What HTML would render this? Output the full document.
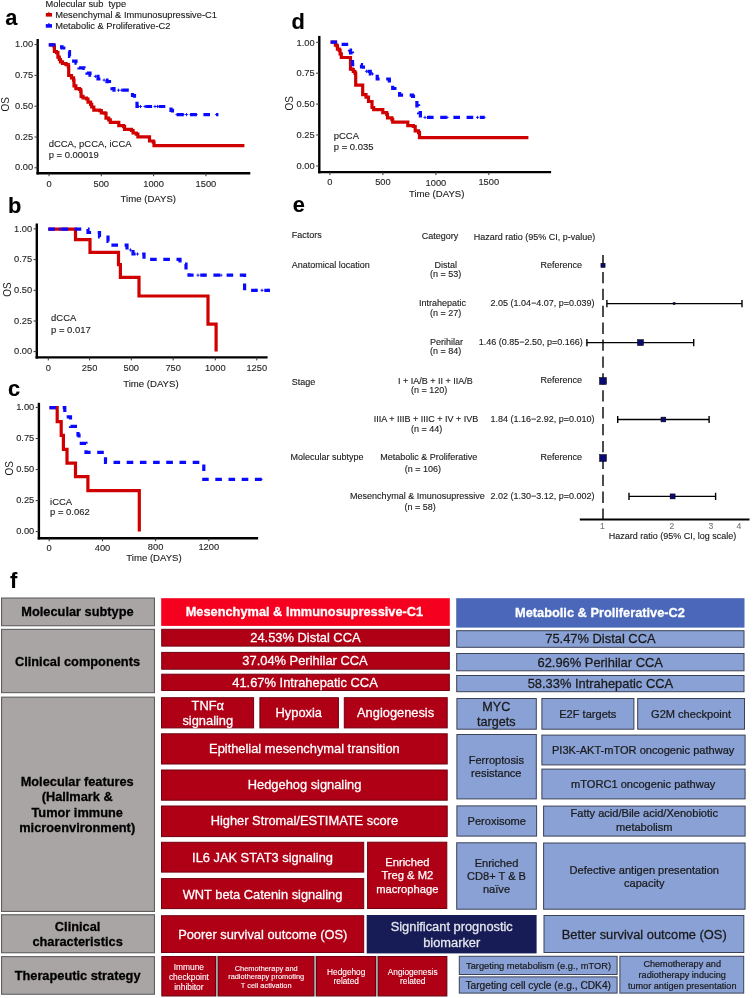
<!DOCTYPE html>
<html><head><meta charset="utf-8"><title>Figure</title><style>
html,body{margin:0;padding:0;background:#fff;}
svg{display:block;}
text{font-family:"Liberation Sans", Arial, sans-serif;}
</style></head><body>
<svg width="753" height="998" viewBox="0 0 753 998">
<rect width="753" height="998" fill="#fff"/>
<text x="5.3" y="25" font-size="21.8" font-weight="bold" fill="#000" stroke="#000" stroke-width="0.12">a</text>
<text x="8.0" y="212.8" font-size="21.8" font-weight="bold" fill="#000" stroke="#000" stroke-width="0.12">b</text>
<text x="8.0" y="395.6" font-size="21.8" font-weight="bold" fill="#000" stroke="#000" stroke-width="0.12">c</text>
<text x="291.4" y="29.2" font-size="21.8" font-weight="bold" fill="#000" stroke="#000" stroke-width="0.12">d</text>
<text x="292.8" y="212" font-size="21.8" font-weight="bold" fill="#000" stroke="#000" stroke-width="0.12">e</text>
<text x="10.0" y="588.1" font-size="21.8" font-weight="bold" fill="#000" stroke="#000" stroke-width="0.12">f</text>
<text x="45.5" y="7.2" font-size="9.3" fill="#1a1a1a" stroke="#1a1a1a" stroke-width="0.12" xml:space="preserve">Molecular sub  type</text>
<text x="55.2" y="18.2" font-size="9.3" fill="#1a1a1a" stroke="#1a1a1a" stroke-width="0.12">Mesenchymal &amp; Immunosupressive-C1</text>
<text x="55.2" y="29.3" font-size="9.3" fill="#1a1a1a" stroke="#1a1a1a" stroke-width="0.12">Metabolic &amp; Proliferative-C2</text>
<rect x="45.8" y="13" width="6.2" height="3.6" fill="#d00000"/>
<rect x="48.4" y="11.8" width="1" height="2" fill="#d00000"/>
<rect x="45.8" y="24.1" width="6.2" height="3.6" fill="#0a0aff"/>
<rect x="48.4" y="22.9" width="1" height="2" fill="#0a0aff"/>
<line x1="37.7" y1="39" x2="37.7" y2="174.39999999999998" stroke="#000" stroke-width="2.4"/>
<line x1="36.5" y1="173.2" x2="250.3" y2="173.2" stroke="#000" stroke-width="2.4"/>
<line x1="34.5" y1="44.6" x2="37.7" y2="44.6" stroke="#333" stroke-width="1"/>
<text x="33.1" y="47.1" font-size="9.3" text-anchor="end" fill="#262626" stroke="#262626" stroke-width="0.12">1.00</text>
<line x1="34.5" y1="75.4" x2="37.7" y2="75.4" stroke="#333" stroke-width="1"/>
<text x="33.1" y="77.9" font-size="9.3" text-anchor="end" fill="#262626" stroke="#262626" stroke-width="0.12">0.75</text>
<line x1="34.5" y1="106.2" x2="37.7" y2="106.2" stroke="#333" stroke-width="1"/>
<text x="33.1" y="108.7" font-size="9.3" text-anchor="end" fill="#262626" stroke="#262626" stroke-width="0.12">0.50</text>
<line x1="34.5" y1="137.0" x2="37.7" y2="137.0" stroke="#333" stroke-width="1"/>
<text x="33.1" y="139.5" font-size="9.3" text-anchor="end" fill="#262626" stroke="#262626" stroke-width="0.12">0.25</text>
<line x1="34.5" y1="167.8" x2="37.7" y2="167.8" stroke="#333" stroke-width="1"/>
<text x="33.1" y="170.3" font-size="9.3" text-anchor="end" fill="#262626" stroke="#262626" stroke-width="0.12">0.00</text>
<line x1="49" y1="173.2" x2="49" y2="176.2" stroke="#333" stroke-width="1"/>
<text x="49" y="186.5" font-size="9.3" text-anchor="middle" fill="#262626" stroke="#262626" stroke-width="0.12">0</text>
<line x1="101.3" y1="173.2" x2="101.3" y2="176.2" stroke="#333" stroke-width="1"/>
<text x="101.3" y="186.5" font-size="9.3" text-anchor="middle" fill="#262626" stroke="#262626" stroke-width="0.12">500</text>
<line x1="153.6" y1="173.2" x2="153.6" y2="176.2" stroke="#333" stroke-width="1"/>
<text x="153.6" y="186.5" font-size="9.3" text-anchor="middle" fill="#262626" stroke="#262626" stroke-width="0.12">1000</text>
<line x1="205.9" y1="173.2" x2="205.9" y2="176.2" stroke="#333" stroke-width="1"/>
<text x="205.9" y="186.5" font-size="9.3" text-anchor="middle" fill="#262626" stroke="#262626" stroke-width="0.12">1500</text>
<text x="148.3" y="201.5" font-size="9.6" text-anchor="middle" fill="#1a1a1a" stroke="#1a1a1a" stroke-width="0.12">Time (DAYS)</text>
<text transform="translate(8.9,104.4) rotate(-90)" font-size="10" text-anchor="middle" fill="#1a1a1a">OS</text>
<text x="48.7" y="147" font-size="9.45" fill="#1a1a1a" stroke="#1a1a1a" stroke-width="0.12">dCCA, pCCA, iCCA</text>
<text x="48.7" y="158.1" font-size="9.45" fill="#1a1a1a" stroke="#1a1a1a" stroke-width="0.12">p = 0.00019</text>
<path d="M48.8,44.8 H53.8 V46 H54.4 V51.5 H56.5 V52.7 H57.9 V57.1 H59.3 V59.5 H60.5 V61.9 H62.5 V63.5 H66 V64.7 H68.3 V66.3 H68.7 V75.5 H71.5 V77.8 H73.5 V80.2 H74 V85.8 H75.9 V88.6 H79.5 V89.5 H80.7 V91.4 H81.1 V96.4 H83 V98 H86.4 V99 H88 V102.2 H90.6 V104.3 H91.7 V107 H93.8 V110.2 H99.5 V110.7 H101.3 V112.8 H105 V113.4 H106 V118.2 H108.7 V119.8 H110.3 V122.4 H118.8 V125.6 H123.6 V126.7 H124.6 V129.3 H131.5 V130.5 H133.1 V133 H136.3 V134.1 H137.9 V136.8 H149.5 V141 H153.3 V142.1 H154 V145.6 H244.4" fill="none" stroke="#d00000" stroke-width="3.2"/>
<path d="M48.8,44.8 H55.5 V46.8 H62 V48 H67 V51.5 H69.5 V56.3 H72 V61.1 H76 V63.1 H79 V67.9 H84 V68.3 H87 V73.1 H90 V75.1 H94 V76.4 H98 V79 H104 V80.1 H107 V81.7 H109.5 V84.9 H112 V88.6 H114 V90.2 H132.5 V95.5 H134.5 V98.7 H137 V106.5 H171 V110.4 H172.5 V114.6 H218.4" fill="none" stroke="#0a0aff" stroke-width="3.2" stroke-dasharray="6.6 6.6"/>
<path d="M93.8,76.4 H97.0 M95.4,74.8 V78.0" stroke="#0a0aff" stroke-width="0.9" fill="none"/>
<path d="M102.5,80.1 H105.7 M104.1,78.5 V81.7" stroke="#0a0aff" stroke-width="0.9" fill="none"/>
<path d="M116.9,90.2 H120.1 M118.5,88.6 V91.8" stroke="#0a0aff" stroke-width="0.9" fill="none"/>
<path d="M120.1,90.2 H123.3 M121.7,88.6 V91.8" stroke="#0a0aff" stroke-width="0.9" fill="none"/>
<path d="M138.9,106.5 H142.1 M140.5,104.9 V108.1" stroke="#0a0aff" stroke-width="0.9" fill="none"/>
<path d="M143.4,106.5 H146.6 M145.0,104.9 V108.1" stroke="#0a0aff" stroke-width="0.9" fill="none"/>
<path d="M147.4,106.5 H150.6 M149.0,104.9 V108.1" stroke="#0a0aff" stroke-width="0.9" fill="none"/>
<path d="M153.4,106.5 H156.6 M155.0,104.9 V108.1" stroke="#0a0aff" stroke-width="0.9" fill="none"/>
<path d="M155.9,106.5 H159.1 M157.5,104.9 V108.1" stroke="#0a0aff" stroke-width="0.9" fill="none"/>
<path d="M175.4,114.6 H178.6 M177.0,113.0 V116.2" stroke="#0a0aff" stroke-width="0.9" fill="none"/>
<path d="M181.4,114.6 H184.6 M183.0,113.0 V116.2" stroke="#0a0aff" stroke-width="0.9" fill="none"/>
<path d="M184.9,114.6 H188.1 M186.5,113.0 V116.2" stroke="#0a0aff" stroke-width="0.9" fill="none"/>
<path d="M189.4,114.6 H192.6 M191.0,113.0 V116.2" stroke="#0a0aff" stroke-width="0.9" fill="none"/>
<path d="M194.4,114.6 H197.6 M196.0,113.0 V116.2" stroke="#0a0aff" stroke-width="0.9" fill="none"/>
<path d="M214.9,114.6 H218.1 M216.5,113.0 V116.2" stroke="#0a0aff" stroke-width="0.9" fill="none"/>
<line x1="36.8" y1="223.5" x2="36.8" y2="358.59999999999997" stroke="#000" stroke-width="2.4"/>
<line x1="35.599999999999994" y1="357.4" x2="267.6" y2="357.4" stroke="#000" stroke-width="2.4"/>
<line x1="33.599999999999994" y1="228.9" x2="36.8" y2="228.9" stroke="#333" stroke-width="1"/>
<text x="32.199999999999996" y="231.6" font-size="9.3" text-anchor="end" fill="#262626" stroke="#262626" stroke-width="0.12">1.00</text>
<line x1="33.599999999999994" y1="259.6" x2="36.8" y2="259.6" stroke="#333" stroke-width="1"/>
<text x="32.199999999999996" y="262.3" font-size="9.3" text-anchor="end" fill="#262626" stroke="#262626" stroke-width="0.12">0.75</text>
<line x1="33.599999999999994" y1="290.3" x2="36.8" y2="290.3" stroke="#333" stroke-width="1"/>
<text x="32.199999999999996" y="293.0" font-size="9.3" text-anchor="end" fill="#262626" stroke="#262626" stroke-width="0.12">0.50</text>
<line x1="33.599999999999994" y1="321.0" x2="36.8" y2="321.0" stroke="#333" stroke-width="1"/>
<text x="32.199999999999996" y="323.7" font-size="9.3" text-anchor="end" fill="#262626" stroke="#262626" stroke-width="0.12">0.25</text>
<line x1="33.599999999999994" y1="351.6" x2="36.8" y2="351.6" stroke="#333" stroke-width="1"/>
<text x="32.199999999999996" y="354.3" font-size="9.3" text-anchor="end" fill="#262626" stroke="#262626" stroke-width="0.12">0.00</text>
<line x1="48.3" y1="357.4" x2="48.3" y2="360.4" stroke="#333" stroke-width="1"/>
<text x="48.3" y="371.4" font-size="9.3" text-anchor="middle" fill="#262626" stroke="#262626" stroke-width="0.12">0</text>
<line x1="89.6" y1="357.4" x2="89.6" y2="360.4" stroke="#333" stroke-width="1"/>
<text x="89.6" y="371.4" font-size="9.3" text-anchor="middle" fill="#262626" stroke="#262626" stroke-width="0.12">250</text>
<line x1="131.3" y1="357.4" x2="131.3" y2="360.4" stroke="#333" stroke-width="1"/>
<text x="131.3" y="371.4" font-size="9.3" text-anchor="middle" fill="#262626" stroke="#262626" stroke-width="0.12">500</text>
<line x1="173.2" y1="357.4" x2="173.2" y2="360.4" stroke="#333" stroke-width="1"/>
<text x="173.2" y="371.4" font-size="9.3" text-anchor="middle" fill="#262626" stroke="#262626" stroke-width="0.12">750</text>
<line x1="215.3" y1="357.4" x2="215.3" y2="360.4" stroke="#333" stroke-width="1"/>
<text x="215.3" y="371.4" font-size="9.3" text-anchor="middle" fill="#262626" stroke="#262626" stroke-width="0.12">1000</text>
<line x1="256.8" y1="357.4" x2="256.8" y2="360.4" stroke="#333" stroke-width="1"/>
<text x="256.8" y="371.4" font-size="9.3" text-anchor="middle" fill="#262626" stroke="#262626" stroke-width="0.12">1250</text>
<text x="150.9" y="387.3" font-size="9.6" text-anchor="middle" fill="#1a1a1a" stroke="#1a1a1a" stroke-width="0.12">Time (DAYS)</text>
<text transform="translate(10.5,289.6) rotate(-90)" font-size="10" text-anchor="middle" fill="#1a1a1a">OS</text>
<text x="51.1" y="321.2" font-size="9.45" fill="#1a1a1a" stroke="#1a1a1a" stroke-width="0.12">dCCA</text>
<text x="51.1" y="332.6" font-size="9.45" fill="#1a1a1a" stroke="#1a1a1a" stroke-width="0.12">p = 0.017</text>
<path d="M48.3,229.1 H75.5 V239.7 H90 V252.4 H118.5 V264.6 H120.4 V277.3 H139 V296 H208 V324.2 H216.1 V351.6 H216.1" fill="none" stroke="#d00000" stroke-width="3.2"/>
<path d="M48.3,229.1 H88 V232.5 H99.5 V237 H108 V241.5 H110 V245.2 H127 V250 H133 V254 H144 V259.3 H180 V264 H186 V271 H189 V275.2 H244.6 V290.3 H270" fill="none" stroke="#0a0aff" stroke-width="3.2" stroke-dasharray="6.6 6.6"/>
<path d="M58.4,229.1 H61.6 M60.0,227.5 V230.7" stroke="#0a0aff" stroke-width="0.9" fill="none"/>
<path d="M128.9,250.0 H132.1 M130.5,248.4 V251.6" stroke="#0a0aff" stroke-width="0.9" fill="none"/>
<path d="M135.9,254.0 H139.1 M137.5,252.4 V255.6" stroke="#0a0aff" stroke-width="0.9" fill="none"/>
<path d="M196.4,275.2 H199.6 M198.0,273.6 V276.8" stroke="#0a0aff" stroke-width="0.9" fill="none"/>
<path d="M202.4,275.2 H205.6 M204.0,273.6 V276.8" stroke="#0a0aff" stroke-width="0.9" fill="none"/>
<path d="M219.4,275.2 H222.6 M221.0,273.6 V276.8" stroke="#0a0aff" stroke-width="0.9" fill="none"/>
<path d="M254.4,290.3 H257.6 M256.0,288.7 V291.9" stroke="#0a0aff" stroke-width="0.9" fill="none"/>
<path d="M260.4,290.3 H263.6 M262.0,288.7 V291.9" stroke="#0a0aff" stroke-width="0.9" fill="none"/>
<path d="M266.4,290.3 H269.6 M268.0,288.7 V291.9" stroke="#0a0aff" stroke-width="0.9" fill="none"/>
<line x1="38.9" y1="402.8" x2="38.9" y2="539.4000000000001" stroke="#000" stroke-width="2.4"/>
<line x1="37.699999999999996" y1="538.2" x2="258.1" y2="538.2" stroke="#000" stroke-width="2.4"/>
<line x1="35.699999999999996" y1="407.4" x2="38.9" y2="407.4" stroke="#333" stroke-width="1"/>
<text x="34.3" y="409.7" font-size="9.3" text-anchor="end" fill="#262626" stroke="#262626" stroke-width="0.12">1.00</text>
<line x1="35.699999999999996" y1="438.5" x2="38.9" y2="438.5" stroke="#333" stroke-width="1"/>
<text x="34.3" y="440.8" font-size="9.3" text-anchor="end" fill="#262626" stroke="#262626" stroke-width="0.12">0.75</text>
<line x1="35.699999999999996" y1="469.6" x2="38.9" y2="469.6" stroke="#333" stroke-width="1"/>
<text x="34.3" y="471.9" font-size="9.3" text-anchor="end" fill="#262626" stroke="#262626" stroke-width="0.12">0.50</text>
<line x1="35.699999999999996" y1="500.6" x2="38.9" y2="500.6" stroke="#333" stroke-width="1"/>
<text x="34.3" y="502.9" font-size="9.3" text-anchor="end" fill="#262626" stroke="#262626" stroke-width="0.12">0.25</text>
<line x1="35.699999999999996" y1="531.6" x2="38.9" y2="531.6" stroke="#333" stroke-width="1"/>
<text x="34.3" y="533.9" font-size="9.3" text-anchor="end" fill="#262626" stroke="#262626" stroke-width="0.12">0.00</text>
<line x1="49.2" y1="538.2" x2="49.2" y2="541.2" stroke="#333" stroke-width="1"/>
<text x="49.2" y="551.2" font-size="9.3" text-anchor="middle" fill="#262626" stroke="#262626" stroke-width="0.12">0</text>
<line x1="102.5" y1="538.2" x2="102.5" y2="541.2" stroke="#333" stroke-width="1"/>
<text x="102.5" y="551.2" font-size="9.3" text-anchor="middle" fill="#262626" stroke="#262626" stroke-width="0.12">400</text>
<line x1="155.6" y1="538.2" x2="155.6" y2="541.2" stroke="#333" stroke-width="1"/>
<text x="155.6" y="549.6" font-size="9.3" text-anchor="middle" fill="#262626" stroke="#262626" stroke-width="0.12">800</text>
<line x1="208.8" y1="538.2" x2="208.8" y2="541.2" stroke="#333" stroke-width="1"/>
<text x="208.8" y="549.6" font-size="9.3" text-anchor="middle" fill="#262626" stroke="#262626" stroke-width="0.12">1200</text>
<text x="154" y="560.8" font-size="9.6" text-anchor="middle" fill="#1a1a1a" stroke="#1a1a1a" stroke-width="0.12">Time (DAYS)</text>
<text transform="translate(12.7,468.4) rotate(-90)" font-size="10" text-anchor="middle" fill="#1a1a1a">OS</text>
<text x="50.1" y="504.7" font-size="9.45" fill="#1a1a1a" stroke="#1a1a1a" stroke-width="0.12">iCCA</text>
<text x="50.1" y="515" font-size="9.45" fill="#1a1a1a" stroke="#1a1a1a" stroke-width="0.12">p = 0.062</text>
<path d="M49.5,407.6 H57.2 V421.6 H61.2 V435.4 H63.4 V449.4 H67 V463.1 H75.5 V476.7 H87.9 V490.6 H139.3 V531.6 H139.3" fill="none" stroke="#d00000" stroke-width="3.2"/>
<path d="M49.5,407.6 H64.8 V416.8 H70.5 V426.3 H78 V435 H79 V443.4 H86 V452.3 H105.5 V462.4 H203.8 V479.4 H261.9" fill="none" stroke="#0a0aff" stroke-width="3.2" stroke-dasharray="6.6 6.6"/>
<path d="M166.4,462.4 H169.6 M168.0,460.8 V464.0" stroke="#0a0aff" stroke-width="0.9" fill="none"/>
<path d="M204.9,479.4 H208.1 M206.5,477.8 V481.0" stroke="#0a0aff" stroke-width="0.9" fill="none"/>
<path d="M259.4,479.4 H262.6 M261.0,477.8 V481.0" stroke="#0a0aff" stroke-width="0.9" fill="none"/>
<line x1="319.3" y1="35.9" x2="319.3" y2="173.29999999999998" stroke="#000" stroke-width="2.4"/>
<line x1="318.1" y1="172.1" x2="551.1" y2="172.1" stroke="#000" stroke-width="2.4"/>
<line x1="316.1" y1="42.3" x2="319.3" y2="42.3" stroke="#333" stroke-width="1"/>
<text x="314.7" y="45.5" font-size="9.3" text-anchor="end" fill="#262626" stroke="#262626" stroke-width="0.12">1.00</text>
<line x1="316.1" y1="73.2" x2="319.3" y2="73.2" stroke="#333" stroke-width="1"/>
<text x="314.7" y="76.4" font-size="9.3" text-anchor="end" fill="#262626" stroke="#262626" stroke-width="0.12">0.75</text>
<line x1="316.1" y1="104.1" x2="319.3" y2="104.1" stroke="#333" stroke-width="1"/>
<text x="314.7" y="107.3" font-size="9.3" text-anchor="end" fill="#262626" stroke="#262626" stroke-width="0.12">0.50</text>
<line x1="316.1" y1="135.0" x2="319.3" y2="135.0" stroke="#333" stroke-width="1"/>
<text x="314.7" y="138.2" font-size="9.3" text-anchor="end" fill="#262626" stroke="#262626" stroke-width="0.12">0.25</text>
<line x1="316.1" y1="166.0" x2="319.3" y2="166.0" stroke="#333" stroke-width="1"/>
<text x="314.7" y="169.2" font-size="9.3" text-anchor="end" fill="#262626" stroke="#262626" stroke-width="0.12">0.00</text>
<line x1="329.9" y1="172.1" x2="329.9" y2="175.1" stroke="#333" stroke-width="1"/>
<text x="329.9" y="184.8" font-size="9.3" text-anchor="middle" fill="#262626" stroke="#262626" stroke-width="0.12">0</text>
<line x1="382.9" y1="172.1" x2="382.9" y2="175.1" stroke="#333" stroke-width="1"/>
<text x="382.9" y="184.8" font-size="9.3" text-anchor="middle" fill="#262626" stroke="#262626" stroke-width="0.12">500</text>
<line x1="435.9" y1="172.1" x2="435.9" y2="175.1" stroke="#333" stroke-width="1"/>
<text x="435.9" y="185.6" font-size="9.3" text-anchor="middle" fill="#262626" stroke="#262626" stroke-width="0.12">1000</text>
<line x1="488.8" y1="172.1" x2="488.8" y2="175.1" stroke="#333" stroke-width="1"/>
<text x="488.8" y="184.8" font-size="9.3" text-anchor="middle" fill="#262626" stroke="#262626" stroke-width="0.12">1500</text>
<text x="436.7" y="197.4" font-size="9.6" text-anchor="middle" fill="#1a1a1a" stroke="#1a1a1a" stroke-width="0.12">Time (DAYS)</text>
<text transform="translate(293.4,103.4) rotate(-90)" font-size="10" text-anchor="middle" fill="#1a1a1a">OS</text>
<text x="333.8" y="139.1" font-size="9.45" fill="#1a1a1a" stroke="#1a1a1a" stroke-width="0.12">pCCA</text>
<text x="333.8" y="149.9" font-size="9.45" fill="#1a1a1a" stroke="#1a1a1a" stroke-width="0.12">p = 0.035</text>
<path d="M330.6,42.2 H335.4 V45.2 H337 V46 H337.4 V49.2 H339.3 V50.4 H340.1 V53.9 H341.3 V57.5 H350.5 V69.1 H352.5 V69.5 H353.3 V71.5 H354.9 V73.1 H355.7 V85.2 H362.7 V94.6 H366 V97.2 H368.5 V101.5 H372 V107.5 H373.7 V109.6 H382.8 V112.7 H386.7 V114.4 H387.5 V117.9 H391.9 V119.6 H392.7 V122.2 H407.8 V125.7 H413.4 V126.5 H415.2 V130.9 H418.6 V132.6 H419.5 V137.6 H528.4" fill="none" stroke="#d00000" stroke-width="3.2"/>
<path d="M330.6,42.2 H339 V44.4 H349.5 V50 H350.5 V53 H352.5 V64.7 H361.5 V67 H363.4 V71.3 H370.3 V73.9 H377.2 V79 H389.3 V80.8 H392.7 V88.5 H399.6 V95.1 H412.6 V96.3 H416.9 V105.8 H418.6 V112.7 H420.4 V117.4 H484.5" fill="none" stroke="#0a0aff" stroke-width="3.2" stroke-dasharray="6.6 6.6"/>
<path d="M364.9,71.3 H368.1 M366.5,69.7 V72.9" stroke="#0a0aff" stroke-width="0.9" fill="none"/>
<path d="M370.9,73.9 H374.1 M372.5,72.3 V75.5" stroke="#0a0aff" stroke-width="0.9" fill="none"/>
<path d="M423.4,117.4 H426.6 M425.0,115.8 V119.0" stroke="#0a0aff" stroke-width="0.9" fill="none"/>
<path d="M428.4,117.4 H431.6 M430.0,115.8 V119.0" stroke="#0a0aff" stroke-width="0.9" fill="none"/>
<path d="M445.4,117.4 H448.6 M447.0,115.8 V119.0" stroke="#0a0aff" stroke-width="0.9" fill="none"/>
<path d="M475.9,117.4 H479.1 M477.5,115.8 V119.0" stroke="#0a0aff" stroke-width="0.9" fill="none"/>
<path d="M482.4,117.4 H485.6 M484.0,115.8 V119.0" stroke="#0a0aff" stroke-width="0.9" fill="none"/>
<text x="291.8" y="237.8" font-size="9" fill="#1a1a1a" stroke="#1a1a1a" stroke-width="0.12">Factors</text>
<text x="440" y="239.4" font-size="9" text-anchor="middle" fill="#1a1a1a" stroke="#1a1a1a" stroke-width="0.12">Category</text>
<text x="473.8" y="239.5" font-size="9" fill="#1a1a1a" stroke="#1a1a1a" stroke-width="0.12">Hazard ratio (95% CI, p-value)</text>
<text x="291.8" y="268.1" font-size="9" fill="#1a1a1a" stroke="#1a1a1a" stroke-width="0.12">Anatomical location</text>
<text x="291.8" y="384.9" font-size="9" fill="#1a1a1a" stroke="#1a1a1a" stroke-width="0.12">Stage</text>
<text x="290.5" y="460.4" font-size="9" fill="#1a1a1a" stroke="#1a1a1a" stroke-width="0.12">Molecular subtype</text>
<text x="445.7" y="268.1" font-size="9" text-anchor="middle" fill="#1a1a1a" stroke="#1a1a1a" stroke-width="0.12">Distal</text>
<text x="445.7" y="277.0" font-size="9" text-anchor="middle" fill="#1a1a1a" stroke="#1a1a1a" stroke-width="0.12">(n = 53)</text>
<text x="442.5" y="306.3" font-size="9" text-anchor="middle" fill="#1a1a1a" stroke="#1a1a1a" stroke-width="0.12">Intrahepatic</text>
<text x="445.7" y="315.9" font-size="9" text-anchor="middle" fill="#1a1a1a" stroke="#1a1a1a" stroke-width="0.12">(n = 27)</text>
<text x="446.4" y="344.6" font-size="9" text-anchor="middle" fill="#1a1a1a" stroke="#1a1a1a" stroke-width="0.12">Perihilar</text>
<text x="445.7" y="353.5" font-size="9" text-anchor="middle" fill="#1a1a1a" stroke="#1a1a1a" stroke-width="0.12">(n = 84)</text>
<text x="435.3" y="383.9" font-size="9" text-anchor="middle" fill="#1a1a1a" stroke="#1a1a1a" stroke-width="0.12">I + IA/B + II + IIA/B</text>
<text x="429.2" y="392.8" font-size="9" text-anchor="middle" fill="#1a1a1a" stroke="#1a1a1a" stroke-width="0.12">(n = 120)</text>
<text x="426.1" y="422.2" font-size="9" text-anchor="middle" fill="#1a1a1a" stroke="#1a1a1a" stroke-width="0.12">IIIA + IIIB + IIIC + IV + IVB</text>
<text x="426.6" y="431.7" font-size="9" text-anchor="middle" fill="#1a1a1a" stroke="#1a1a1a" stroke-width="0.12">(n = 44)</text>
<text x="428.7" y="460.4" font-size="9" text-anchor="middle" fill="#1a1a1a" stroke="#1a1a1a" stroke-width="0.12">Metabolic &amp; Proliferative</text>
<text x="422.8" y="472.2" font-size="9" text-anchor="middle" fill="#1a1a1a" stroke="#1a1a1a" stroke-width="0.12">(n = 106)</text>
<text x="417.4" y="498.6" font-size="9" text-anchor="middle" fill="#1a1a1a" stroke="#1a1a1a" stroke-width="0.12">Mesenchymal &amp; Imunosupressive</text>
<text x="420.2" y="510.4" font-size="9" text-anchor="middle" fill="#1a1a1a" stroke="#1a1a1a" stroke-width="0.12">(n = 58)</text>
<text x="540.5" y="267.5" font-size="9" fill="#1a1a1a" stroke="#1a1a1a" stroke-width="0.12">Reference</text>
<text x="490.4" y="305.6" font-size="9" fill="#1a1a1a" stroke="#1a1a1a" stroke-width="0.12">2.05 (1.04−4.07, p=0.039)</text>
<text x="478.7" y="345.3" font-size="9" fill="#1a1a1a" stroke="#1a1a1a" stroke-width="0.12">1.46 (0.85−2.50, p=0.166)</text>
<text x="540.5" y="382.6" font-size="9" fill="#1a1a1a" stroke="#1a1a1a" stroke-width="0.12">Reference</text>
<text x="490.4" y="422.3" font-size="9" fill="#1a1a1a" stroke="#1a1a1a" stroke-width="0.12">1.84 (1.16−2.92, p=0.010)</text>
<text x="540.5" y="460.4" font-size="9" fill="#1a1a1a" stroke="#1a1a1a" stroke-width="0.12">Reference</text>
<text x="490.4" y="499.3" font-size="9" fill="#1a1a1a" stroke="#1a1a1a" stroke-width="0.12">2.02 (1.30−3.12, p=0.002)</text>
<line x1="603" y1="255" x2="603" y2="519" stroke="#000" stroke-width="1.4" stroke-dasharray="11.3 5.6"/>
<line x1="579.8" y1="519.5" x2="749.5" y2="519.5" stroke="#000" stroke-width="2"/>
<text x="602.3" y="528.7" font-size="8.6" text-anchor="middle" fill="#777" stroke="#777" stroke-width="0.12">1</text>
<text x="671.9" y="528.7" font-size="8.6" text-anchor="middle" fill="#777" stroke="#777" stroke-width="0.12">2</text>
<text x="710.9" y="528.7" font-size="8.6" text-anchor="middle" fill="#777" stroke="#777" stroke-width="0.12">3</text>
<text x="739" y="528.7" font-size="8.6" text-anchor="middle" fill="#777" stroke="#777" stroke-width="0.12">4</text>
<text x="672.5" y="538.6" font-size="9" text-anchor="middle" fill="#1a1a1a" stroke="#1a1a1a" stroke-width="0.12">Hazard ratio (95% CI, log scale)</text>
<rect x="600.9" y="263.3" width="4.2" height="4.2" fill="#0a0a70" stroke="#000" stroke-width="0.5"/>
<line x1="606.9" y1="303.6" x2="742.0" y2="303.6" stroke="#000" stroke-width="1.4"/>
<line x1="606.9" y1="300.0" x2="606.9" y2="307.20000000000005" stroke="#000" stroke-width="1.4"/>
<line x1="742.0" y1="300.0" x2="742.0" y2="307.20000000000005" stroke="#000" stroke-width="1.4"/>
<rect x="673.1" y="302.6" width="2.0" height="2.0" fill="#0a0a70" stroke="#000" stroke-width="0.5"/>
<line x1="586.9" y1="342.6" x2="693.7" y2="342.6" stroke="#000" stroke-width="1.4"/>
<line x1="586.9" y1="339.0" x2="586.9" y2="346.20000000000005" stroke="#000" stroke-width="1.4"/>
<line x1="693.7" y1="339.0" x2="693.7" y2="346.20000000000005" stroke="#000" stroke-width="1.4"/>
<rect x="637.5" y="339.6" width="6.0" height="6.0" fill="#0a0a70" stroke="#000" stroke-width="0.5"/>
<rect x="599.5" y="377.5" width="7.0" height="7.0" fill="#0a0a70" stroke="#000" stroke-width="0.5"/>
<line x1="617.7" y1="419.5" x2="709.1" y2="419.5" stroke="#000" stroke-width="1.4"/>
<line x1="617.7" y1="415.9" x2="617.7" y2="423.1" stroke="#000" stroke-width="1.4"/>
<line x1="709.1" y1="415.9" x2="709.1" y2="423.1" stroke="#000" stroke-width="1.4"/>
<rect x="661.0" y="417.1" width="4.8" height="4.8" fill="#0a0a70" stroke="#000" stroke-width="0.5"/>
<rect x="599.5" y="454.5" width="7.0" height="7.0" fill="#0a0a70" stroke="#000" stroke-width="0.5"/>
<line x1="629.0" y1="496.4" x2="715.6" y2="496.4" stroke="#000" stroke-width="1.4"/>
<line x1="629.0" y1="492.79999999999995" x2="629.0" y2="500.0" stroke="#000" stroke-width="1.4"/>
<line x1="715.6" y1="492.79999999999995" x2="715.6" y2="500.0" stroke="#000" stroke-width="1.4"/>
<rect x="670.1" y="493.9" width="5.0" height="5.0" fill="#0a0a70" stroke="#000" stroke-width="0.5"/>
<rect x="1.55" y="598.05" width="152.90" height="27.70" fill="#aaa5a5" stroke="#5e5e5e" stroke-width="1.1"/>
<rect x="1.55" y="629.35" width="152.90" height="63.30" fill="#aaa5a5" stroke="#5e5e5e" stroke-width="1.1"/>
<rect x="1.55" y="697.15" width="152.90" height="214.30" fill="#aaa5a5" stroke="#5e5e5e" stroke-width="1.1"/>
<rect x="1.55" y="914.75" width="152.90" height="38.00" fill="#aaa5a5" stroke="#5e5e5e" stroke-width="1.1"/>
<rect x="1.55" y="956.65" width="152.90" height="37.60" fill="#aaa5a5" stroke="#5e5e5e" stroke-width="1.1"/>
<text x="77.5" y="616.3" font-size="12.8" text-anchor="middle" font-weight="bold" fill="#000" stroke="#000" stroke-width="0.28">Molecular subtype</text>
<text x="77.5" y="666" font-size="12.8" text-anchor="middle" font-weight="bold" fill="#000" stroke="#000" stroke-width="0.28">Clinical components</text>
<text x="77.2" y="785.7" font-size="12.8" text-anchor="middle" font-weight="bold" fill="#000" stroke="#000" stroke-width="0.28">Molecular features</text>
<text x="77.2" y="801.1" font-size="12.8" text-anchor="middle" font-weight="bold" fill="#000" stroke="#000" stroke-width="0.28">(Hallmark &amp;</text>
<text x="77.2" y="816.6" font-size="12.8" text-anchor="middle" font-weight="bold" fill="#000" stroke="#000" stroke-width="0.28">Tumor immune</text>
<text x="77.2" y="831.9" font-size="12.8" text-anchor="middle" font-weight="bold" fill="#000" stroke="#000" stroke-width="0.28">microenvironment)</text>
<text x="77.6" y="930.8" font-size="12.8" text-anchor="middle" font-weight="bold" fill="#000" stroke="#000" stroke-width="0.28">Clinical</text>
<text x="77.6" y="946.3" font-size="12.8" text-anchor="middle" font-weight="bold" fill="#000" stroke="#000" stroke-width="0.28">characteristics</text>
<text x="77.6" y="980.3" font-size="12.8" text-anchor="middle" font-weight="bold" fill="#000" stroke="#000" stroke-width="0.28">Therapeutic strategy</text>
<rect x="161.2" y="598.2" width="288.60" height="27.70" fill="#f5001e"/>
<text x="304.4" y="615.7" font-size="12.8" text-anchor="middle" font-weight="bold" fill="#ffffff" stroke="#ffffff" stroke-width="0.28">Mesenchymal &amp; Immunosupressive-C1</text>
<rect x="161.70" y="629.30" width="287.60" height="16.80" fill="#b00016" stroke="#700010" stroke-width="1"/>
<rect x="161.70" y="652.40" width="287.60" height="16.80" fill="#b00016" stroke="#700010" stroke-width="1"/>
<rect x="161.70" y="674.20" width="287.60" height="16.30" fill="#b00016" stroke="#700010" stroke-width="1"/>
<text x="305.4" y="642.0" font-size="12.9" text-anchor="middle" fill="#ffffff" stroke="#ffffff" stroke-width="0.28">24.53% Distal CCA</text>
<text x="305.0" y="665.2" font-size="12.9" text-anchor="middle" fill="#ffffff" stroke="#ffffff" stroke-width="0.28">37.04% Perihilar CCA</text>
<text x="305.0" y="686.5" font-size="12.9" text-anchor="middle" fill="#ffffff" stroke="#ffffff" stroke-width="0.28">41.67% Intrahepatic CCA</text>
<rect x="161.50" y="697.70" width="92.10" height="30.20" fill="#b00016" stroke="#700010" stroke-width="1"/>
<rect x="259.90" y="697.70" width="78.50" height="30.20" fill="#b00016" stroke="#700010" stroke-width="1"/>
<rect x="344.30" y="697.70" width="102.90" height="30.20" fill="#b00016" stroke="#700010" stroke-width="1"/>
<text x="207.8" y="709.6" font-size="12.85" text-anchor="middle" fill="#ffffff" stroke="#ffffff" stroke-width="0.28">TNFα</text>
<text x="207.8" y="725.3" font-size="12.85" text-anchor="middle" fill="#ffffff" stroke="#ffffff" stroke-width="0.28">signaling</text>
<text x="298.8" y="716.6" font-size="12.85" text-anchor="middle" fill="#ffffff" stroke="#ffffff" stroke-width="0.28">Hypoxia</text>
<text x="395.6" y="716.6" font-size="12.85" text-anchor="middle" fill="#ffffff" stroke="#ffffff" stroke-width="0.28">Angiogenesis</text>
<rect x="161.50" y="733.80" width="285.70" height="30.20" fill="#b00016" stroke="#700010" stroke-width="1"/>
<text x="304.4" y="753.3" font-size="12.85" text-anchor="middle" fill="#ffffff" stroke="#ffffff" stroke-width="0.28">Epithelial mesenchymal transition</text>
<rect x="161.50" y="770.00" width="285.70" height="30.20" fill="#b00016" stroke="#700010" stroke-width="1"/>
<text x="304.6" y="789.3" font-size="12.85" text-anchor="middle" fill="#ffffff" stroke="#ffffff" stroke-width="0.28">Hedgehog signaling</text>
<rect x="161.50" y="806.00" width="285.70" height="30.60" fill="#b00016" stroke="#700010" stroke-width="1"/>
<text x="304.4" y="825.3" font-size="12.85" text-anchor="middle" fill="#ffffff" stroke="#ffffff" stroke-width="0.28">Higher Stromal/ESTIMATE score</text>
<rect x="161.50" y="842.30" width="202.20" height="29.80" fill="#b00016" stroke="#700010" stroke-width="1"/>
<text x="262.5" y="861.7" font-size="12.85" text-anchor="middle" fill="#ffffff" stroke="#ffffff" stroke-width="0.28">IL6 JAK STAT3 signaling</text>
<rect x="161.50" y="878.60" width="202.20" height="30.00" fill="#b00016" stroke="#700010" stroke-width="1"/>
<text x="262.5" y="898.8" font-size="12.85" text-anchor="middle" fill="#ffffff" stroke="#ffffff" stroke-width="0.28">WNT beta Catenin signaling</text>
<rect x="367.60" y="842.20" width="79.20" height="66.30" fill="#b00016" stroke="#700010" stroke-width="1"/>
<text x="407.3" y="865.7" font-size="11.2" text-anchor="middle" fill="#ffffff" stroke="#ffffff" stroke-width="0.25">Enriched</text>
<text x="407.3" y="879.3" font-size="11.2" text-anchor="middle" fill="#ffffff" stroke="#ffffff" stroke-width="0.25">Treg &amp; M2</text>
<text x="407.3" y="893.1" font-size="11.2" text-anchor="middle" fill="#ffffff" stroke="#ffffff" stroke-width="0.25">macrophage</text>
<rect x="161.50" y="915.70" width="202.20" height="36.80" fill="#b00016" stroke="#700010" stroke-width="1"/>
<text x="262.75" y="939.0" font-size="12.85" text-anchor="middle" fill="#ffffff" stroke="#ffffff" stroke-width="0.28">Poorer survival outcome (OS)</text>
<rect x="366.7" y="915.0" width="169.90" height="38.40" fill="#171c56"/>
<text x="451.75" y="931.1" font-size="12.85" text-anchor="middle" fill="#e6e6ee" stroke="#e6e6ee" stroke-width="0.28">Significant prognostic</text>
<text x="451.75" y="946.7" font-size="12.85" text-anchor="middle" fill="#e6e6ee" stroke="#e6e6ee" stroke-width="0.28">biomarker</text>
<rect x="161.4" y="956.0" width="285.90" height="40.40" fill="#a4a9a9"/>
<rect x="161.90" y="956.50" width="53.60" height="39.40" fill="#b00016" stroke="#700010" stroke-width="1"/>
<text x="188.9" y="969.6" font-size="8.4" text-anchor="middle" fill="#ffffff" stroke="#ffffff" stroke-width="0.1">Immune</text>
<text x="188.9" y="979.6" font-size="8.4" text-anchor="middle" fill="#ffffff" stroke="#ffffff" stroke-width="0.1">checkpoint</text>
<text x="188.9" y="989.6" font-size="8.4" text-anchor="middle" fill="#ffffff" stroke="#ffffff" stroke-width="0.1">inhibitor</text>
<rect x="218.30" y="956.50" width="95.40" height="39.40" fill="#b00016" stroke="#700010" stroke-width="1"/>
<text x="266.2" y="970.6" font-size="7.4" text-anchor="middle" fill="#ffffff" stroke="#ffffff" stroke-width="0.1">Chemotherapy and</text>
<text x="266.2" y="979.1" font-size="7.4" text-anchor="middle" fill="#ffffff" stroke="#ffffff" stroke-width="0.1">radiotherapy promoting</text>
<text x="266.2" y="987.6" font-size="7.4" text-anchor="middle" fill="#ffffff" stroke="#ffffff" stroke-width="0.1">T cell activation</text>
<rect x="316.50" y="956.50" width="59.00" height="39.40" fill="#b00016" stroke="#700010" stroke-width="1"/>
<text x="346.2" y="974.7" font-size="8.3" text-anchor="middle" fill="#ffffff" stroke="#ffffff" stroke-width="0.1">Hedgehog</text>
<text x="346.2" y="983.7" font-size="8.3" text-anchor="middle" fill="#ffffff" stroke="#ffffff" stroke-width="0.1">related</text>
<rect x="378.30" y="956.50" width="68.50" height="39.40" fill="#b00016" stroke="#700010" stroke-width="1"/>
<text x="412.7" y="974.7" font-size="8.3" text-anchor="middle" fill="#ffffff" stroke="#ffffff" stroke-width="0.1">Angiogenesis</text>
<text x="412.7" y="983.7" font-size="8.3" text-anchor="middle" fill="#ffffff" stroke="#ffffff" stroke-width="0.1">related</text>
<rect x="456.2" y="598.2" width="288.30" height="29.40" fill="#4a67b9"/>
<text x="600.0" y="616.9" font-size="12.8" text-anchor="middle" font-weight="bold" fill="#ffffff" stroke="#ffffff" stroke-width="0.28">Metabolic &amp; Proliferative-C2</text>
<rect x="456.70" y="630.70" width="287.30" height="16.60" fill="#8aa1d6" stroke="#3b4256" stroke-width="1"/>
<rect x="456.70" y="653.50" width="287.30" height="17.30" fill="#8aa1d6" stroke="#3b4256" stroke-width="1"/>
<rect x="456.70" y="675.50" width="287.30" height="16.20" fill="#8aa1d6" stroke="#3b4256" stroke-width="1"/>
<text x="600.4" y="643.4" font-size="12.9" text-anchor="middle" fill="#1a1a1a" stroke="#1a1a1a" stroke-width="0.28">75.47% Distal CCA</text>
<text x="600.2" y="666.7" font-size="12.9" text-anchor="middle" fill="#1a1a1a" stroke="#1a1a1a" stroke-width="0.28">62.96% Perihilar CCA</text>
<text x="600.4" y="687.6" font-size="12.9" text-anchor="middle" fill="#1a1a1a" stroke="#1a1a1a" stroke-width="0.28">58.33% Intrahepatic CCA</text>
<rect x="456.90" y="698.50" width="79.40" height="30.70" fill="#8aa1d6" stroke="#3b4256" stroke-width="1"/>
<text x="496.3" y="710.5" font-size="12.6" text-anchor="middle" fill="#1a1a1a" stroke="#1a1a1a" stroke-width="0.28">MYC</text>
<text x="496.3" y="725.5" font-size="12.6" text-anchor="middle" fill="#1a1a1a" stroke="#1a1a1a" stroke-width="0.28">targets</text>
<rect x="541.90" y="698.50" width="92.00" height="30.70" fill="#8aa1d6" stroke="#3b4256" stroke-width="1"/>
<text x="587.8" y="717.6" font-size="11.07" text-anchor="middle" fill="#1a1a1a" stroke="#1a1a1a" stroke-width="0.24">E2F targets</text>
<rect x="637.70" y="698.50" width="106.80" height="30.70" fill="#8aa1d6" stroke="#3b4256" stroke-width="1"/>
<text x="691.0" y="717.6" font-size="11.07" text-anchor="middle" fill="#1a1a1a" stroke="#1a1a1a" stroke-width="0.24">G2M checkpoint</text>
<rect x="456.90" y="734.50" width="79.40" height="64.40" fill="#8aa1d6" stroke="#3b4256" stroke-width="1"/>
<text x="496.3" y="763.9" font-size="11.07" text-anchor="middle" fill="#1a1a1a" stroke="#1a1a1a" stroke-width="0.24">Ferroptosis</text>
<text x="496.3" y="777.1" font-size="11.07" text-anchor="middle" fill="#1a1a1a" stroke="#1a1a1a" stroke-width="0.24">resistance</text>
<rect x="541.90" y="735.10" width="203.20" height="29.80" fill="#8aa1d6" stroke="#3b4256" stroke-width="1"/>
<text x="643.2" y="754.0" font-size="11.07" text-anchor="middle" fill="#1a1a1a" stroke="#1a1a1a" stroke-width="0.24">PI3K-AKT-mTOR oncogenic pathway</text>
<rect x="541.90" y="769.10" width="203.20" height="29.80" fill="#8aa1d6" stroke="#3b4256" stroke-width="1"/>
<text x="643.2" y="788.0" font-size="11.07" text-anchor="middle" fill="#1a1a1a" stroke="#1a1a1a" stroke-width="0.24">mTORC1 oncogenic pathway</text>
<rect x="456.90" y="805.90" width="79.70" height="30.20" fill="#8aa1d6" stroke="#3b4256" stroke-width="1"/>
<text x="496.8" y="824.8" font-size="11.07" text-anchor="middle" fill="#1a1a1a" stroke="#1a1a1a" stroke-width="0.24">Peroxisome</text>
<rect x="543.60" y="806.10" width="201.50" height="30.00" fill="#8aa1d6" stroke="#3b4256" stroke-width="1"/>
<text x="644.3" y="817.2" font-size="11.07" text-anchor="middle" fill="#1a1a1a" stroke="#1a1a1a" stroke-width="0.24">Fatty acid/Bile acid/Xenobiotic</text>
<text x="644.3" y="830.8" font-size="11.07" text-anchor="middle" fill="#1a1a1a" stroke="#1a1a1a" stroke-width="0.24">metabolism</text>
<rect x="456.70" y="842.80" width="79.60" height="66.40" fill="#8aa1d6" stroke="#3b4256" stroke-width="1"/>
<text x="496.5" y="866.5" font-size="11.07" text-anchor="middle" fill="#1a1a1a" stroke="#1a1a1a" stroke-width="0.24">Enriched</text>
<text x="496.5" y="880.0" font-size="11.07" text-anchor="middle" fill="#1a1a1a" stroke="#1a1a1a" stroke-width="0.24">CD8+ T &amp; B</text>
<text x="496.5" y="893.3" font-size="11.07" text-anchor="middle" fill="#1a1a1a" stroke="#1a1a1a" stroke-width="0.24">naïve</text>
<rect x="543.60" y="843.00" width="201.50" height="66.20" fill="#8aa1d6" stroke="#3b4256" stroke-width="1"/>
<text x="644.3" y="873.8" font-size="11.07" text-anchor="middle" fill="#1a1a1a" stroke="#1a1a1a" stroke-width="0.24">Defective antigen presentation</text>
<text x="644.3" y="887.2" font-size="11.07" text-anchor="middle" fill="#1a1a1a" stroke="#1a1a1a" stroke-width="0.24">capacity</text>
<rect x="544.00" y="915.50" width="199.80" height="37.00" fill="#8aa1d6" stroke="#3b4256" stroke-width="1"/>
<text x="644.25" y="938.6" font-size="12.85" text-anchor="middle" fill="#1a1a1a" stroke="#1a1a1a" stroke-width="0.28">Better survival outcome (OS)</text>
<rect x="459.30" y="956.30" width="157.80" height="18.20" fill="#8aa1d6" stroke="#3b4256" stroke-width="1"/>
<text x="538.5" y="968.9" font-size="9.3" text-anchor="middle" fill="#1a1a1a" stroke="#1a1a1a" stroke-width="0.2">Targeting metabolism (e.g., mTOR)</text>
<rect x="459.30" y="976.90" width="157.80" height="16.20" fill="#8aa1d6" stroke="#3b4256" stroke-width="1"/>
<text x="538.2" y="989.2" font-size="10.2" text-anchor="middle" fill="#1a1a1a" stroke="#1a1a1a" stroke-width="0.22">Targeting cell cycle (e.g., CDK4)</text>
<rect x="619.90" y="956.30" width="123.80" height="36.80" fill="#8aa1d6" stroke="#3b4256" stroke-width="1"/>
<text x="682.2" y="967.2" font-size="9.15" text-anchor="middle" fill="#1a1a1a" stroke="#1a1a1a" stroke-width="0.2">Chemotherapy and</text>
<text x="682.2" y="978.3" font-size="9.15" text-anchor="middle" fill="#1a1a1a" stroke="#1a1a1a" stroke-width="0.2">radiotherapy inducing</text>
<text x="682.2" y="988.8" font-size="9.15" text-anchor="middle" fill="#1a1a1a" stroke="#1a1a1a" stroke-width="0.2">tumor antigen presentation</text>
</svg>
</body></html>
